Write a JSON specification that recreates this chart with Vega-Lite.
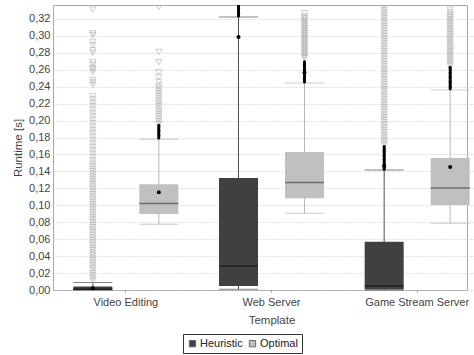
{
"$schema":"https://vega.github.io/schema/vega-lite/v6.json",
"width":414,"height":285,
"autosize":"none",
"padding":{"left":53,"top":5,"right":7,"bottom":65},
"config":{
"locale":{"number":{"decimal":",","thousands":".","grouping":[3],"currency":["",""]}},
"font":"Liberation Sans",
"view":{"stroke":"#a8a8a8","strokeWidth":1},
"axis":{"labelFont":"Liberation Sans","titleFont":"Liberation Sans","labelColor":"#444444","titleColor":"#444444","labelFontSize":11,"titleFontSize":11.5,"titleFontWeight":"normal"}
},
"datasets":{
"stats":[
{"template":"Video Editing","series":"Heuristic","lo":0,"q1":0,"median":0.001,"q3":0.004,"hi":0.009,"mean":0.002},
{"template":"Video Editing","series":"Optimal","lo":0.0776,"q1":0.0897,"median":0.102,"q3":0.125,"hi":0.178,"mean":0.1153},
{"template":"Web Server","series":"Heuristic","lo":0.001,"q1":0.0047,"median":0.0283,"q3":0.1322,"hi":0.3224,"mean":0.2987},
{"template":"Web Server","series":"Optimal","lo":0.0906,"q1":0.1083,"median":0.127,"q3":0.163,"hi":0.2445,"mean":0.257},
{"template":"Game Stream Server","series":"Heuristic","lo":0,"q1":0.0005,"median":0.0047,"q3":0.057,"hi":0.1417,"mean":0.146},
{"template":"Game Stream Server","series":"Optimal","lo":0.0787,"q1":0.1004,"median":0.1204,"q3":0.156,"hi":0.236,"mean":0.1453}
],
"near":[
{"template":"Video Editing","series":"Optimal","value":0.1795},{"template":"Video Editing","series":"Optimal","value":0.181},{"template":"Video Editing","series":"Optimal","value":0.1825},{"template":"Video Editing","series":"Optimal","value":0.184},{"template":"Video Editing","series":"Optimal","value":0.1855},{"template":"Video Editing","series":"Optimal","value":0.187},{"template":"Video Editing","series":"Optimal","value":0.1885},{"template":"Video Editing","series":"Optimal","value":0.19},{"template":"Video Editing","series":"Optimal","value":0.1915},{"template":"Video Editing","series":"Optimal","value":0.193},{"template":"Video Editing","series":"Optimal","value":0.1945},
{"template":"Web Server","series":"Heuristic","value":0.3235},{"template":"Web Server","series":"Heuristic","value":0.325},{"template":"Web Server","series":"Heuristic","value":0.3265},{"template":"Web Server","series":"Heuristic","value":0.328},{"template":"Web Server","series":"Heuristic","value":0.3295},{"template":"Web Server","series":"Heuristic","value":0.331},{"template":"Web Server","series":"Heuristic","value":0.3325},{"template":"Web Server","series":"Heuristic","value":0.334},{"template":"Web Server","series":"Heuristic","value":0.3355},
{"template":"Web Server","series":"Optimal","value":0.2455},{"template":"Web Server","series":"Optimal","value":0.247},{"template":"Web Server","series":"Optimal","value":0.2485},{"template":"Web Server","series":"Optimal","value":0.25},{"template":"Web Server","series":"Optimal","value":0.2515},{"template":"Web Server","series":"Optimal","value":0.253},{"template":"Web Server","series":"Optimal","value":0.2545},{"template":"Web Server","series":"Optimal","value":0.256},{"template":"Web Server","series":"Optimal","value":0.2575},{"template":"Web Server","series":"Optimal","value":0.259},{"template":"Web Server","series":"Optimal","value":0.2605},{"template":"Web Server","series":"Optimal","value":0.262},{"template":"Web Server","series":"Optimal","value":0.2635},{"template":"Web Server","series":"Optimal","value":0.265},{"template":"Web Server","series":"Optimal","value":0.2665},{"template":"Web Server","series":"Optimal","value":0.268},{"template":"Web Server","series":"Optimal","value":0.2695},
{"template":"Game Stream Server","series":"Heuristic","value":0.1425},{"template":"Game Stream Server","series":"Heuristic","value":0.144},{"template":"Game Stream Server","series":"Heuristic","value":0.1455},{"template":"Game Stream Server","series":"Heuristic","value":0.147},{"template":"Game Stream Server","series":"Heuristic","value":0.1485},{"template":"Game Stream Server","series":"Heuristic","value":0.15},{"template":"Game Stream Server","series":"Heuristic","value":0.1515},{"template":"Game Stream Server","series":"Heuristic","value":0.153},{"template":"Game Stream Server","series":"Heuristic","value":0.1545},{"template":"Game Stream Server","series":"Heuristic","value":0.156},{"template":"Game Stream Server","series":"Heuristic","value":0.1575},{"template":"Game Stream Server","series":"Heuristic","value":0.159},{"template":"Game Stream Server","series":"Heuristic","value":0.1605},{"template":"Game Stream Server","series":"Heuristic","value":0.162},{"template":"Game Stream Server","series":"Heuristic","value":0.1635},{"template":"Game Stream Server","series":"Heuristic","value":0.165},{"template":"Game Stream Server","series":"Heuristic","value":0.1665},{"template":"Game Stream Server","series":"Heuristic","value":0.168},{"template":"Game Stream Server","series":"Heuristic","value":0.1695},
{"template":"Game Stream Server","series":"Optimal","value":0.2375},{"template":"Game Stream Server","series":"Optimal","value":0.239},{"template":"Game Stream Server","series":"Optimal","value":0.2405},{"template":"Game Stream Server","series":"Optimal","value":0.242},{"template":"Game Stream Server","series":"Optimal","value":0.2435},{"template":"Game Stream Server","series":"Optimal","value":0.245},{"template":"Game Stream Server","series":"Optimal","value":0.2465},{"template":"Game Stream Server","series":"Optimal","value":0.248},{"template":"Game Stream Server","series":"Optimal","value":0.2495},{"template":"Game Stream Server","series":"Optimal","value":0.251},{"template":"Game Stream Server","series":"Optimal","value":0.2525},{"template":"Game Stream Server","series":"Optimal","value":0.254},{"template":"Game Stream Server","series":"Optimal","value":0.2555},{"template":"Game Stream Server","series":"Optimal","value":0.257},{"template":"Game Stream Server","series":"Optimal","value":0.2585},{"template":"Game Stream Server","series":"Optimal","value":0.26},{"template":"Game Stream Server","series":"Optimal","value":0.2615},{"template":"Game Stream Server","series":"Optimal","value":0.263}
],
"far":[
{"template":"Video Editing","series":"Heuristic","value":0.011},{"template":"Video Editing","series":"Heuristic","value":0.014},{"template":"Video Editing","series":"Heuristic","value":0.017},{"template":"Video Editing","series":"Heuristic","value":0.02},{"template":"Video Editing","series":"Heuristic","value":0.023},{"template":"Video Editing","series":"Heuristic","value":0.026},{"template":"Video Editing","series":"Heuristic","value":0.029},{"template":"Video Editing","series":"Heuristic","value":0.032},{"template":"Video Editing","series":"Heuristic","value":0.035},{"template":"Video Editing","series":"Heuristic","value":0.038},{"template":"Video Editing","series":"Heuristic","value":0.041},{"template":"Video Editing","series":"Heuristic","value":0.044},{"template":"Video Editing","series":"Heuristic","value":0.047},{"template":"Video Editing","series":"Heuristic","value":0.05},{"template":"Video Editing","series":"Heuristic","value":0.053},{"template":"Video Editing","series":"Heuristic","value":0.056},{"template":"Video Editing","series":"Heuristic","value":0.059},{"template":"Video Editing","series":"Heuristic","value":0.062},{"template":"Video Editing","series":"Heuristic","value":0.065},{"template":"Video Editing","series":"Heuristic","value":0.068},{"template":"Video Editing","series":"Heuristic","value":0.071},{"template":"Video Editing","series":"Heuristic","value":0.074},{"template":"Video Editing","series":"Heuristic","value":0.077},{"template":"Video Editing","series":"Heuristic","value":0.08},{"template":"Video Editing","series":"Heuristic","value":0.083},{"template":"Video Editing","series":"Heuristic","value":0.086},{"template":"Video Editing","series":"Heuristic","value":0.089},{"template":"Video Editing","series":"Heuristic","value":0.092},{"template":"Video Editing","series":"Heuristic","value":0.095},{"template":"Video Editing","series":"Heuristic","value":0.098},{"template":"Video Editing","series":"Heuristic","value":0.101},{"template":"Video Editing","series":"Heuristic","value":0.104},{"template":"Video Editing","series":"Heuristic","value":0.107},{"template":"Video Editing","series":"Heuristic","value":0.11},{"template":"Video Editing","series":"Heuristic","value":0.113},{"template":"Video Editing","series":"Heuristic","value":0.116},{"template":"Video Editing","series":"Heuristic","value":0.119},{"template":"Video Editing","series":"Heuristic","value":0.122},{"template":"Video Editing","series":"Heuristic","value":0.125},{"template":"Video Editing","series":"Heuristic","value":0.128},{"template":"Video Editing","series":"Heuristic","value":0.131},{"template":"Video Editing","series":"Heuristic","value":0.134},{"template":"Video Editing","series":"Heuristic","value":0.137},{"template":"Video Editing","series":"Heuristic","value":0.14},{"template":"Video Editing","series":"Heuristic","value":0.143},{"template":"Video Editing","series":"Heuristic","value":0.146},{"template":"Video Editing","series":"Heuristic","value":0.149},
{"template":"Video Editing","series":"Heuristic","value":0.153},{"template":"Video Editing","series":"Heuristic","value":0.157},{"template":"Video Editing","series":"Heuristic","value":0.161},{"template":"Video Editing","series":"Heuristic","value":0.165},{"template":"Video Editing","series":"Heuristic","value":0.169},{"template":"Video Editing","series":"Heuristic","value":0.173},{"template":"Video Editing","series":"Heuristic","value":0.177},{"template":"Video Editing","series":"Heuristic","value":0.181},{"template":"Video Editing","series":"Heuristic","value":0.185},{"template":"Video Editing","series":"Heuristic","value":0.189},{"template":"Video Editing","series":"Heuristic","value":0.193},{"template":"Video Editing","series":"Heuristic","value":0.197},{"template":"Video Editing","series":"Heuristic","value":0.201},{"template":"Video Editing","series":"Heuristic","value":0.205},{"template":"Video Editing","series":"Heuristic","value":0.209},{"template":"Video Editing","series":"Heuristic","value":0.213},{"template":"Video Editing","series":"Heuristic","value":0.217},{"template":"Video Editing","series":"Heuristic","value":0.221},{"template":"Video Editing","series":"Heuristic","value":0.225},{"template":"Video Editing","series":"Heuristic","value":0.229},
{"template":"Video Editing","series":"Heuristic","value":0.242},{"template":"Video Editing","series":"Heuristic","value":0.245},{"template":"Video Editing","series":"Heuristic","value":0.248},{"template":"Video Editing","series":"Heuristic","value":0.257},{"template":"Video Editing","series":"Heuristic","value":0.26},{"template":"Video Editing","series":"Heuristic","value":0.262},{"template":"Video Editing","series":"Heuristic","value":0.266},{"template":"Video Editing","series":"Heuristic","value":0.269},{"template":"Video Editing","series":"Heuristic","value":0.28},{"template":"Video Editing","series":"Heuristic","value":0.283},{"template":"Video Editing","series":"Heuristic","value":0.289},{"template":"Video Editing","series":"Heuristic","value":0.293},{"template":"Video Editing","series":"Heuristic","value":0.301},{"template":"Video Editing","series":"Heuristic","value":0.303},{"template":"Video Editing","series":"Heuristic","value":0.331},
{"template":"Video Editing","series":"Optimal","value":0.196},{"template":"Video Editing","series":"Optimal","value":0.199},{"template":"Video Editing","series":"Optimal","value":0.202},{"template":"Video Editing","series":"Optimal","value":0.205},{"template":"Video Editing","series":"Optimal","value":0.208},{"template":"Video Editing","series":"Optimal","value":0.211},{"template":"Video Editing","series":"Optimal","value":0.214},{"template":"Video Editing","series":"Optimal","value":0.217},{"template":"Video Editing","series":"Optimal","value":0.22},{"template":"Video Editing","series":"Optimal","value":0.223},{"template":"Video Editing","series":"Optimal","value":0.226},{"template":"Video Editing","series":"Optimal","value":0.229},{"template":"Video Editing","series":"Optimal","value":0.232},{"template":"Video Editing","series":"Optimal","value":0.235},{"template":"Video Editing","series":"Optimal","value":0.238},{"template":"Video Editing","series":"Optimal","value":0.241},{"template":"Video Editing","series":"Optimal","value":0.2456},{"template":"Video Editing","series":"Optimal","value":0.2515},{"template":"Video Editing","series":"Optimal","value":0.257},{"template":"Video Editing","series":"Optimal","value":0.269},{"template":"Video Editing","series":"Optimal","value":0.281},{"template":"Video Editing","series":"Optimal","value":0.334},
{"template":"Web Server","series":"Optimal","value":0.2736},{"template":"Web Server","series":"Optimal","value":0.2755},{"template":"Web Server","series":"Optimal","value":0.2775},{"template":"Web Server","series":"Optimal","value":0.2795},{"template":"Web Server","series":"Optimal","value":0.2815},{"template":"Web Server","series":"Optimal","value":0.2834},{"template":"Web Server","series":"Optimal","value":0.2855},{"template":"Web Server","series":"Optimal","value":0.2875},{"template":"Web Server","series":"Optimal","value":0.2893},{"template":"Web Server","series":"Optimal","value":0.2912},{"template":"Web Server","series":"Optimal","value":0.2932},{"template":"Web Server","series":"Optimal","value":0.295},{"template":"Web Server","series":"Optimal","value":0.297},{"template":"Web Server","series":"Optimal","value":0.299},{"template":"Web Server","series":"Optimal","value":0.3011},{"template":"Web Server","series":"Optimal","value":0.303},{"template":"Web Server","series":"Optimal","value":0.305},{"template":"Web Server","series":"Optimal","value":0.307},{"template":"Web Server","series":"Optimal","value":0.309},{"template":"Web Server","series":"Optimal","value":0.311},{"template":"Web Server","series":"Optimal","value":0.313},{"template":"Web Server","series":"Optimal","value":0.3149},{"template":"Web Server","series":"Optimal","value":0.317},{"template":"Web Server","series":"Optimal","value":0.319},{"template":"Web Server","series":"Optimal","value":0.321},{"template":"Web Server","series":"Optimal","value":0.3227},{"template":"Web Server","series":"Optimal","value":0.3267},
{"template":"Game Stream Server","series":"Heuristic","value":0.171},{"template":"Game Stream Server","series":"Heuristic","value":0.174},{"template":"Game Stream Server","series":"Heuristic","value":0.177},{"template":"Game Stream Server","series":"Heuristic","value":0.18},{"template":"Game Stream Server","series":"Heuristic","value":0.183},{"template":"Game Stream Server","series":"Heuristic","value":0.186},{"template":"Game Stream Server","series":"Heuristic","value":0.189},{"template":"Game Stream Server","series":"Heuristic","value":0.192},{"template":"Game Stream Server","series":"Heuristic","value":0.195},{"template":"Game Stream Server","series":"Heuristic","value":0.198},{"template":"Game Stream Server","series":"Heuristic","value":0.201},{"template":"Game Stream Server","series":"Heuristic","value":0.204},{"template":"Game Stream Server","series":"Heuristic","value":0.207},{"template":"Game Stream Server","series":"Heuristic","value":0.21},{"template":"Game Stream Server","series":"Heuristic","value":0.213},{"template":"Game Stream Server","series":"Heuristic","value":0.216},{"template":"Game Stream Server","series":"Heuristic","value":0.219},{"template":"Game Stream Server","series":"Heuristic","value":0.222},{"template":"Game Stream Server","series":"Heuristic","value":0.225},{"template":"Game Stream Server","series":"Heuristic","value":0.228},{"template":"Game Stream Server","series":"Heuristic","value":0.231},{"template":"Game Stream Server","series":"Heuristic","value":0.234},{"template":"Game Stream Server","series":"Heuristic","value":0.237},{"template":"Game Stream Server","series":"Heuristic","value":0.24},{"template":"Game Stream Server","series":"Heuristic","value":0.243},{"template":"Game Stream Server","series":"Heuristic","value":0.246},{"template":"Game Stream Server","series":"Heuristic","value":0.249},{"template":"Game Stream Server","series":"Heuristic","value":0.252},{"template":"Game Stream Server","series":"Heuristic","value":0.255},{"template":"Game Stream Server","series":"Heuristic","value":0.258},{"template":"Game Stream Server","series":"Heuristic","value":0.261},{"template":"Game Stream Server","series":"Heuristic","value":0.264},{"template":"Game Stream Server","series":"Heuristic","value":0.267},{"template":"Game Stream Server","series":"Heuristic","value":0.27},{"template":"Game Stream Server","series":"Heuristic","value":0.273},{"template":"Game Stream Server","series":"Heuristic","value":0.276},{"template":"Game Stream Server","series":"Heuristic","value":0.279},{"template":"Game Stream Server","series":"Heuristic","value":0.282},{"template":"Game Stream Server","series":"Heuristic","value":0.285},{"template":"Game Stream Server","series":"Heuristic","value":0.288},{"template":"Game Stream Server","series":"Heuristic","value":0.291},{"template":"Game Stream Server","series":"Heuristic","value":0.294},{"template":"Game Stream Server","series":"Heuristic","value":0.297},{"template":"Game Stream Server","series":"Heuristic","value":0.3},{"template":"Game Stream Server","series":"Heuristic","value":0.303},{"template":"Game Stream Server","series":"Heuristic","value":0.306},{"template":"Game Stream Server","series":"Heuristic","value":0.309},{"template":"Game Stream Server","series":"Heuristic","value":0.312},{"template":"Game Stream Server","series":"Heuristic","value":0.315},{"template":"Game Stream Server","series":"Heuristic","value":0.318},{"template":"Game Stream Server","series":"Heuristic","value":0.321},{"template":"Game Stream Server","series":"Heuristic","value":0.324},{"template":"Game Stream Server","series":"Heuristic","value":0.327},{"template":"Game Stream Server","series":"Heuristic","value":0.33},{"template":"Game Stream Server","series":"Heuristic","value":0.333},{"template":"Game Stream Server","series":"Heuristic","value":0.336},
{"template":"Game Stream Server","series":"Optimal","value":0.2645},{"template":"Game Stream Server","series":"Optimal","value":0.267},{"template":"Game Stream Server","series":"Optimal","value":0.2695},{"template":"Game Stream Server","series":"Optimal","value":0.272},{"template":"Game Stream Server","series":"Optimal","value":0.2745},{"template":"Game Stream Server","series":"Optimal","value":0.277},{"template":"Game Stream Server","series":"Optimal","value":0.2795},{"template":"Game Stream Server","series":"Optimal","value":0.282},{"template":"Game Stream Server","series":"Optimal","value":0.2845},{"template":"Game Stream Server","series":"Optimal","value":0.287},{"template":"Game Stream Server","series":"Optimal","value":0.2895},{"template":"Game Stream Server","series":"Optimal","value":0.292},{"template":"Game Stream Server","series":"Optimal","value":0.2945},{"template":"Game Stream Server","series":"Optimal","value":0.297},{"template":"Game Stream Server","series":"Optimal","value":0.2995},{"template":"Game Stream Server","series":"Optimal","value":0.302},{"template":"Game Stream Server","series":"Optimal","value":0.3045},{"template":"Game Stream Server","series":"Optimal","value":0.307},{"template":"Game Stream Server","series":"Optimal","value":0.3095},{"template":"Game Stream Server","series":"Optimal","value":0.312},{"template":"Game Stream Server","series":"Optimal","value":0.3145},{"template":"Game Stream Server","series":"Optimal","value":0.317},{"template":"Game Stream Server","series":"Optimal","value":0.3195},{"template":"Game Stream Server","series":"Optimal","value":0.322},{"template":"Game Stream Server","series":"Optimal","value":0.3245},{"template":"Game Stream Server","series":"Optimal","value":0.3275},{"template":"Game Stream Server","series":"Optimal","value":0.331}
]
},
"encoding":{
"x":{"field":"template","type":"nominal","sort":["Video Editing","Web Server","Game Stream Server"],"scale":{"range":[0,437],"paddingInner":0,"paddingOuter":0},"axis":{"title":"Template","labelAngle":0,"domain":false,"ticks":true,"tickSize":2,"tickColor":"#999999","labelPadding":4,"titlePadding":7}},
"xOffset":{"field":"series","type":"nominal","sort":["Heuristic","Optimal"],"scale":{"paddingInner":0,"paddingOuter":0.1036}}
},
"layer":[
{"data":{"name":"stats"},"mark":{"type":"rule","strokeWidth":1},
"encoding":{"y":{"field":"lo","type":"quantitative","title":"Runtime [s]","scale":{"domain":[0,0.3365],"nice":false},
"axis":{"title":"Runtime [s]","titleColor":"#444444","format":".2f","tickCount":40,"labelOverlap":false,"values":[0,0.02,0.04,0.06,0.08,0.1,0.12,0.14,0.16,0.18,0.2,0.22,0.24,0.26,0.28,0.3,0.32],"grid":true,"gridDash":[1,2],"gridColor":"#c4c4c4","domain":false,"ticks":false,"labelPadding":3,"titlePadding":5}},
"y2":{"field":"hi"},
"color":{"condition":{"test":"datum.series==='Heuristic'","value":"#505050"},"value":"#b8b8b8"}}},
{"data":{"name":"stats"},"mark":{"type":"tick","size":39,"thickness":1},
"encoding":{"y":{"field":"lo","type":"quantitative","title":"Runtime [s]"},"color":{"condition":{"test":"datum.series==='Heuristic'","value":"#505050"},"value":"#b8b8b8"}}},
{"data":{"name":"stats"},"mark":{"type":"tick","size":39,"thickness":1},
"encoding":{"y":{"field":"hi","type":"quantitative","title":"Runtime [s]"},"color":{"condition":{"test":"datum.series==='Heuristic'","value":"#505050"},"value":"#b8b8b8"}}},
{"data":{"name":"stats"},"mark":{"type":"bar","size":39},
"encoding":{"y":{"field":"q1","type":"quantitative","title":"Runtime [s]"},"y2":{"field":"q3"},
"color":{"field":"series","type":"nominal","scale":{"domain":["Heuristic","Optimal"],"range":["#404040","#c0c0c0"]},
"legend":{"orient":"none","legendX":130,"legendY":329,"direction":"horizontal","title":null,"symbolType":"square","symbolSize":40,"strokeColor":"#333333","padding":4,"labelFontSize":11,"labelFont":"Liberation Sans","labelColor":"#222222","symbolStrokeColor":"#666666","symbolStrokeWidth":1,"columnPadding":4,"labelOffset":2}}}},
{"data":{"name":"stats"},"mark":{"type":"tick","size":39,"thickness":1.5},
"encoding":{"y":{"field":"median","type":"quantitative","title":"Runtime [s]"},"color":{"condition":{"test":"datum.series==='Heuristic'","value":"#111111"},"value":"#4a4a4a"}}},
{"data":{"name":"far"},"mark":{"type":"point","shape":"triangle-down","filled":false,"size":40,"strokeWidth":0.8,"clip":true},
"encoding":{"y":{"field":"value","type":"quantitative","title":"Runtime [s]"},"color":{"value":"#a8a8a8"}}},
{"data":{"name":"near"},"mark":{"type":"circle","size":9,"opacity":1,"clip":true},
"encoding":{"y":{"field":"value","type":"quantitative","title":"Runtime [s]"},"color":{"value":"#000000"}}},
{"data":{"name":"stats"},"mark":{"type":"circle","size":16,"opacity":1},
"encoding":{"y":{"field":"mean","type":"quantitative","title":"Runtime [s]"},"color":{"value":"#000000"}}}
]
}
